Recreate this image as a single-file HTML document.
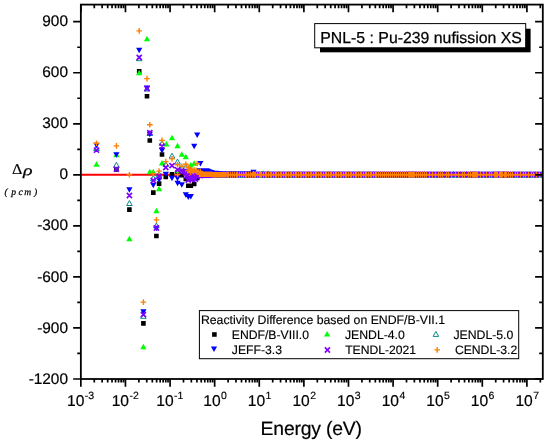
<!DOCTYPE html><html><head><meta charset="utf-8"><title>PNL-5 : Pu-239 nufission XS</title>
<style>html,body{margin:0;padding:0;background:#fff}svg{display:block}text{text-rendering:geometricPrecision;font-family:"Liberation Sans",Arial,sans-serif;fill:#000}.s{font-family:"Liberation Serif","Times New Roman",serif}</style></head><body>
<svg width="550" height="444" viewBox="0 0 550 444">
<rect width="550" height="444" fill="#fff"/>
<line x1="80.85" y1="174.83" x2="542.8" y2="174.83" stroke="#ff0000" stroke-width="2"/>
<g>
<path fill="#000000" d="M114.1 167.1h4.6v4.6h-4.6zM127.1 207.3h4.6v4.6h-4.6zM136.9 69.1h4.6v4.6h-4.6zM141.1 321.1h4.6v4.6h-4.6zM144.7 93.9h4.6v4.6h-4.6zM147.5 138.2h4.6v4.6h-4.6zM151 190.3h4.6v4.6h-4.6zM154.1 233.7h4.6v4.6h-4.6zM156.8 181.3h4.6v4.6h-4.6zM159.7 152.2h4.6v4.6h-4.6zM163.5 174.7h4.6v4.6h-4.6zM169.7 172.1h4.6v4.6h-4.6zM175.2 170.2h4.6v4.6h-4.6zM179.5 173h4.6v4.6h-4.6zM183.5 176.7h4.6v4.6h-4.6zM186 183.5h4.6v4.6h-4.6zM188.5 183.5h4.6v4.6h-4.6zM191.9 181.7h4.6v4.6h-4.6zM194.9 175.7h4.6v4.6h-4.6zM209.7 172.32h4.6v4.6h-4.6zM210.7 172.32h4.6v4.6h-4.6zM211.7 172.32h4.6v4.6h-4.6zM212.7 172.32h4.6v4.6h-4.6zM213.7 172.32h4.6v4.6h-4.6zM214.7 172.32h4.6v4.6h-4.6zM215.7 172.32h4.6v4.6h-4.6zM216.7 172.32h4.6v4.6h-4.6zM217.7 172.32h4.6v4.6h-4.6zM218.7 172.32h4.6v4.6h-4.6zM219.7 172.32h4.6v4.6h-4.6zM220.7 172.32h4.6v4.6h-4.6zM221.7 172.32h4.6v4.6h-4.6zM222.7 172.32h4.6v4.6h-4.6zM223.7 172.32h4.6v4.6h-4.6zM225.2 172.32h4.6v4.6h-4.6zM226.2 172.32h4.6v4.6h-4.6zM228.2 172.32h4.6v4.6h-4.6zM230.2 172.32h4.6v4.6h-4.6zM232.2 172.32h4.6v4.6h-4.6zM234.2 172.32h4.6v4.6h-4.6zM235.2 172.32h4.6v4.6h-4.6zM237.2 172.32h4.6v4.6h-4.6zM239.2 172.32h4.6v4.6h-4.6zM241.2 172.32h4.6v4.6h-4.6zM243.2 172.32h4.6v4.6h-4.6zM244.2 172.32h4.6v4.6h-4.6zM246.2 172.32h4.6v4.6h-4.6zM248.2 172.32h4.6v4.6h-4.6zM250.2 172.32h4.6v4.6h-4.6zM252.2 172.32h4.6v4.6h-4.6zM253.2 172.32h4.6v4.6h-4.6zM255.2 172.32h4.6v4.6h-4.6zM257.2 172.32h4.6v4.6h-4.6zM258.2 172.32h4.6v4.6h-4.6zM259.2 172.32h4.6v4.6h-4.6zM261.2 172.32h4.6v4.6h-4.6zM263.2 172.32h4.6v4.6h-4.6zM264.2 172.32h4.6v4.6h-4.6zM266.2 172.32h4.6v4.6h-4.6zM268.2 172.32h4.6v4.6h-4.6zM269.2 172.32h4.6v4.6h-4.6zM271.2 172.32h4.6v4.6h-4.6zM273.2 172.32h4.6v4.6h-4.6zM274.2 172.32h4.6v4.6h-4.6zM276.2 172.32h4.6v4.6h-4.6zM278.2 172.32h4.6v4.6h-4.6zM279.2 172.32h4.6v4.6h-4.6zM281.2 172.32h4.6v4.6h-4.6zM283.2 172.32h4.6v4.6h-4.6zM284.2 172.32h4.6v4.6h-4.6zM286.2 172.32h4.6v4.6h-4.6zM288.2 172.32h4.6v4.6h-4.6zM289.2 172.32h4.6v4.6h-4.6zM291.2 172.32h4.6v4.6h-4.6zM293.2 172.32h4.6v4.6h-4.6zM294.2 172.32h4.6v4.6h-4.6zM296.2 172.32h4.6v4.6h-4.6zM298.2 172.32h4.6v4.6h-4.6zM299.2 172.32h4.6v4.6h-4.6zM301.2 172.32h4.6v4.6h-4.6zM303.2 172.32h4.6v4.6h-4.6zM304.2 172.32h4.6v4.6h-4.6zM306.2 172.32h4.6v4.6h-4.6zM308.2 172.32h4.6v4.6h-4.6zM309.2 172.32h4.6v4.6h-4.6zM311.2 172.32h4.6v4.6h-4.6zM313.2 172.32h4.6v4.6h-4.6zM314.2 172.32h4.6v4.6h-4.6zM316.2 172.32h4.6v4.6h-4.6zM318.2 172.32h4.6v4.6h-4.6zM319.2 172.32h4.6v4.6h-4.6zM321.2 172.32h4.6v4.6h-4.6zM323.2 172.32h4.6v4.6h-4.6zM324.2 172.32h4.6v4.6h-4.6zM326.2 172.32h4.6v4.6h-4.6zM328.2 172.32h4.6v4.6h-4.6zM329.2 172.32h4.6v4.6h-4.6zM331.2 172.32h4.6v4.6h-4.6zM333.2 172.32h4.6v4.6h-4.6zM334.2 172.32h4.6v4.6h-4.6zM336.2 172.32h4.6v4.6h-4.6zM338.2 172.32h4.6v4.6h-4.6zM339.2 172.32h4.6v4.6h-4.6zM341.2 172.32h4.6v4.6h-4.6zM343.2 172.32h4.6v4.6h-4.6zM344.2 172.32h4.6v4.6h-4.6zM346.2 172.32h4.6v4.6h-4.6zM348.2 172.32h4.6v4.6h-4.6zM349.2 172.32h4.6v4.6h-4.6zM351.2 172.32h4.6v4.6h-4.6zM353.2 172.32h4.6v4.6h-4.6zM354.2 172.32h4.6v4.6h-4.6zM356.2 172.32h4.6v4.6h-4.6zM358.2 172.32h4.6v4.6h-4.6zM359.2 172.32h4.6v4.6h-4.6zM361.2 172.32h4.6v4.6h-4.6zM363.2 172.32h4.6v4.6h-4.6zM364.2 172.32h4.6v4.6h-4.6zM366.2 172.32h4.6v4.6h-4.6zM368.2 172.32h4.6v4.6h-4.6zM369.2 172.32h4.6v4.6h-4.6zM371.2 172.32h4.6v4.6h-4.6zM373.2 172.32h4.6v4.6h-4.6zM374.2 172.32h4.6v4.6h-4.6zM376.2 172.32h4.6v4.6h-4.6zM378.2 172.32h4.6v4.6h-4.6zM380.2 172.32h4.6v4.6h-4.6zM382.2 172.32h4.6v4.6h-4.6zM384.2 172.32h4.6v4.6h-4.6zM386.2 172.32h4.6v4.6h-4.6zM388.2 172.32h4.6v4.6h-4.6zM390.2 172.32h4.6v4.6h-4.6zM392.2 172.32h4.6v4.6h-4.6zM394.2 172.32h4.6v4.6h-4.6zM396.2 172.32h4.6v4.6h-4.6zM398.2 172.32h4.6v4.6h-4.6zM400.2 172.32h4.6v4.6h-4.6zM402.2 172.32h4.6v4.6h-4.6zM404.2 172.32h4.6v4.6h-4.6zM406.2 172.32h4.6v4.6h-4.6zM407.2 172.32h4.6v4.6h-4.6zM407.2 172.32h4.6v4.6h-4.6zM408.2 172.32h4.6v4.6h-4.6zM409.2 172.32h4.6v4.6h-4.6zM410.2 172.32h4.6v4.6h-4.6zM411.2 172.32h4.6v4.6h-4.6zM412.2 172.32h4.6v4.6h-4.6zM414.2 172.32h4.6v4.6h-4.6zM416.2 172.32h4.6v4.6h-4.6zM418.2 172.32h4.6v4.6h-4.6zM420.2 172.32h4.6v4.6h-4.6zM422.2 172.32h4.6v4.6h-4.6zM424.2 172.32h4.6v4.6h-4.6zM427.2 172.32h4.6v4.6h-4.6zM430.2 172.32h4.6v4.6h-4.6zM433.2 172.32h4.6v4.6h-4.6zM436.2 172.32h4.6v4.6h-4.6zM438.2 172.32h4.6v4.6h-4.6zM440.2 172.32h4.6v4.6h-4.6zM444.2 172.32h4.6v4.6h-4.6zM446.2 172.32h4.6v4.6h-4.6zM449.2 172.32h4.6v4.6h-4.6zM453.2 172.32h4.6v4.6h-4.6zM456.2 172.32h4.6v4.6h-4.6zM460.2 172.32h4.6v4.6h-4.6zM462.2 172.32h4.6v4.6h-4.6zM466.2 172.32h4.6v4.6h-4.6zM468.2 172.32h4.6v4.6h-4.6zM470.2 172.32h4.6v4.6h-4.6zM471.2 172.32h4.6v4.6h-4.6zM472.2 172.32h4.6v4.6h-4.6zM473.2 172.32h4.6v4.6h-4.6zM474.2 172.32h4.6v4.6h-4.6zM475.2 172.32h4.6v4.6h-4.6zM478.2 172.32h4.6v4.6h-4.6zM481.2 172.32h4.6v4.6h-4.6zM484.2 172.32h4.6v4.6h-4.6zM487.2 172.32h4.6v4.6h-4.6zM489.2 172.32h4.6v4.6h-4.6zM492.2 172.32h4.6v4.6h-4.6zM493.2 172.32h4.6v4.6h-4.6zM494.2 172.32h4.6v4.6h-4.6zM495.2 172.32h4.6v4.6h-4.6zM497.2 172.32h4.6v4.6h-4.6zM498.2 172.32h4.6v4.6h-4.6zM499.2 172.32h4.6v4.6h-4.6zM500.2 172.32h4.6v4.6h-4.6zM502.2 172.32h4.6v4.6h-4.6zM503.2 172.32h4.6v4.6h-4.6zM504.2 172.32h4.6v4.6h-4.6zM506.2 172.32h4.6v4.6h-4.6zM508.2 172.32h4.6v4.6h-4.6zM510.2 172.32h4.6v4.6h-4.6zM513.2 172.32h4.6v4.6h-4.6zM515.2 172.32h4.6v4.6h-4.6zM518.2 172.32h4.6v4.6h-4.6zM521.2 172.32h4.6v4.6h-4.6zM523.2 172.32h4.6v4.6h-4.6zM526.2 172.32h4.6v4.6h-4.6zM529.2 172.32h4.6v4.6h-4.6zM531.2 172.32h4.6v4.6h-4.6zM534.2 172.32h4.6v4.6h-4.6zM537.2 172.32h4.6v4.6h-4.6z"/>
<path fill="#00ff00" d="M93.4 166.85h6.2l-3.1 -5.5zM113.3 157.25h6.2l-3.1 -5.5zM126.3 241.25h6.2l-3.1 -5.5zM136.1 75.25h6.2l-3.1 -5.5zM140.3 349.25h6.2l-3.1 -5.5zM143.9 41.25h6.2l-3.1 -5.5zM146.7 174.25h6.2l-3.1 -5.5zM150.2 174.25h6.2l-3.1 -5.5zM153.3 213.15h6.2l-3.1 -5.5zM156 191.15h6.2l-3.1 -5.5zM158.9 165.45h6.2l-3.1 -5.5zM163.3 146.55h6.2l-3.1 -5.5zM168.9 140.15h6.2l-3.1 -5.5zM174.4 148.15h6.2l-3.1 -5.5zM174.5 173.05h6.2l-3.1 -5.5zM178.7 156.75h6.2l-3.1 -5.5zM182.7 159.25h6.2l-3.1 -5.5zM187.7 167.55h6.2l-3.1 -5.5zM191.1 165.75h6.2l-3.1 -5.5zM208.9 177.37h6.2l-3.1 -5.5zM209.9 177.37h6.2l-3.1 -5.5zM210.9 177.37h6.2l-3.1 -5.5zM211.9 177.37h6.2l-3.1 -5.5zM212.9 177.37h6.2l-3.1 -5.5zM213.9 177.37h6.2l-3.1 -5.5zM214.9 177.37h6.2l-3.1 -5.5zM215.9 177.37h6.2l-3.1 -5.5zM216.9 177.37h6.2l-3.1 -5.5zM217.9 177.37h6.2l-3.1 -5.5zM218.9 177.37h6.2l-3.1 -5.5zM219.9 177.37h6.2l-3.1 -5.5zM220.9 177.37h6.2l-3.1 -5.5zM221.9 177.37h6.2l-3.1 -5.5zM222.9 177.37h6.2l-3.1 -5.5zM224.4 177.37h6.2l-3.1 -5.5zM225.4 177.37h6.2l-3.1 -5.5zM227.4 177.37h6.2l-3.1 -5.5zM229.4 177.37h6.2l-3.1 -5.5zM231.4 177.37h6.2l-3.1 -5.5zM233.4 177.37h6.2l-3.1 -5.5zM234.4 177.37h6.2l-3.1 -5.5zM236.4 177.37h6.2l-3.1 -5.5zM238.4 177.37h6.2l-3.1 -5.5zM240.4 177.37h6.2l-3.1 -5.5zM242.4 177.37h6.2l-3.1 -5.5zM243.4 177.37h6.2l-3.1 -5.5zM245.4 177.37h6.2l-3.1 -5.5zM247.4 177.37h6.2l-3.1 -5.5zM249.4 177.37h6.2l-3.1 -5.5zM251.4 177.37h6.2l-3.1 -5.5zM252.4 177.37h6.2l-3.1 -5.5zM254.4 177.37h6.2l-3.1 -5.5zM256.4 177.37h6.2l-3.1 -5.5zM257.4 177.37h6.2l-3.1 -5.5zM258.4 177.37h6.2l-3.1 -5.5zM260.4 177.37h6.2l-3.1 -5.5zM262.4 177.37h6.2l-3.1 -5.5zM263.4 177.37h6.2l-3.1 -5.5zM265.4 177.37h6.2l-3.1 -5.5zM267.4 177.37h6.2l-3.1 -5.5zM268.4 177.37h6.2l-3.1 -5.5zM270.4 177.37h6.2l-3.1 -5.5zM272.4 177.37h6.2l-3.1 -5.5zM273.4 177.37h6.2l-3.1 -5.5zM275.4 177.37h6.2l-3.1 -5.5zM277.4 177.37h6.2l-3.1 -5.5zM278.4 177.37h6.2l-3.1 -5.5zM280.4 177.37h6.2l-3.1 -5.5zM282.4 177.37h6.2l-3.1 -5.5zM283.4 177.37h6.2l-3.1 -5.5zM285.4 177.37h6.2l-3.1 -5.5zM287.4 177.37h6.2l-3.1 -5.5zM288.4 177.37h6.2l-3.1 -5.5zM290.4 177.37h6.2l-3.1 -5.5zM292.4 177.37h6.2l-3.1 -5.5zM293.4 177.37h6.2l-3.1 -5.5zM295.4 177.37h6.2l-3.1 -5.5zM297.4 177.37h6.2l-3.1 -5.5zM298.4 177.37h6.2l-3.1 -5.5zM300.4 177.37h6.2l-3.1 -5.5zM302.4 177.37h6.2l-3.1 -5.5zM303.4 177.37h6.2l-3.1 -5.5zM305.4 177.37h6.2l-3.1 -5.5zM307.4 177.37h6.2l-3.1 -5.5zM308.4 177.37h6.2l-3.1 -5.5zM310.4 177.37h6.2l-3.1 -5.5zM312.4 177.37h6.2l-3.1 -5.5zM313.4 177.37h6.2l-3.1 -5.5zM315.4 177.37h6.2l-3.1 -5.5zM317.4 177.37h6.2l-3.1 -5.5zM318.4 177.37h6.2l-3.1 -5.5zM320.4 177.37h6.2l-3.1 -5.5zM322.4 177.37h6.2l-3.1 -5.5zM323.4 177.37h6.2l-3.1 -5.5zM325.4 177.37h6.2l-3.1 -5.5zM327.4 177.37h6.2l-3.1 -5.5zM328.4 177.37h6.2l-3.1 -5.5zM330.4 177.37h6.2l-3.1 -5.5zM332.4 177.37h6.2l-3.1 -5.5zM333.4 177.37h6.2l-3.1 -5.5zM335.4 177.37h6.2l-3.1 -5.5zM337.4 177.37h6.2l-3.1 -5.5zM338.4 177.37h6.2l-3.1 -5.5zM340.4 177.37h6.2l-3.1 -5.5zM342.4 177.37h6.2l-3.1 -5.5zM343.4 177.37h6.2l-3.1 -5.5zM345.4 177.37h6.2l-3.1 -5.5zM347.4 177.37h6.2l-3.1 -5.5zM348.4 177.37h6.2l-3.1 -5.5zM350.4 177.37h6.2l-3.1 -5.5zM352.4 177.37h6.2l-3.1 -5.5zM353.4 177.37h6.2l-3.1 -5.5zM355.4 177.37h6.2l-3.1 -5.5zM357.4 177.37h6.2l-3.1 -5.5zM358.4 177.37h6.2l-3.1 -5.5zM360.4 177.37h6.2l-3.1 -5.5zM362.4 177.37h6.2l-3.1 -5.5zM363.4 177.37h6.2l-3.1 -5.5zM365.4 177.37h6.2l-3.1 -5.5zM367.4 177.37h6.2l-3.1 -5.5zM368.4 177.37h6.2l-3.1 -5.5zM370.4 177.37h6.2l-3.1 -5.5zM372.4 177.37h6.2l-3.1 -5.5zM373.4 177.37h6.2l-3.1 -5.5zM375.4 177.37h6.2l-3.1 -5.5zM377.4 177.37h6.2l-3.1 -5.5zM379.4 177.37h6.2l-3.1 -5.5zM381.4 177.37h6.2l-3.1 -5.5zM383.4 177.37h6.2l-3.1 -5.5zM385.4 177.37h6.2l-3.1 -5.5zM387.4 177.37h6.2l-3.1 -5.5zM389.4 177.37h6.2l-3.1 -5.5zM391.4 177.37h6.2l-3.1 -5.5zM393.4 177.37h6.2l-3.1 -5.5zM395.4 177.37h6.2l-3.1 -5.5zM397.4 177.37h6.2l-3.1 -5.5zM399.4 177.37h6.2l-3.1 -5.5zM401.4 177.37h6.2l-3.1 -5.5zM403.4 177.37h6.2l-3.1 -5.5zM405.4 177.37h6.2l-3.1 -5.5zM406.4 177.37h6.2l-3.1 -5.5zM406.4 177.37h6.2l-3.1 -5.5zM407.4 177.37h6.2l-3.1 -5.5zM408.4 177.37h6.2l-3.1 -5.5zM409.4 177.37h6.2l-3.1 -5.5zM410.4 177.37h6.2l-3.1 -5.5zM411.4 177.37h6.2l-3.1 -5.5zM413.4 177.37h6.2l-3.1 -5.5zM415.4 177.37h6.2l-3.1 -5.5zM417.4 177.37h6.2l-3.1 -5.5zM419.4 177.37h6.2l-3.1 -5.5zM421.4 177.37h6.2l-3.1 -5.5zM423.4 177.37h6.2l-3.1 -5.5zM426.4 177.37h6.2l-3.1 -5.5zM429.4 177.37h6.2l-3.1 -5.5zM432.4 177.37h6.2l-3.1 -5.5zM435.4 177.37h6.2l-3.1 -5.5zM437.4 177.37h6.2l-3.1 -5.5zM439.4 177.37h6.2l-3.1 -5.5zM443.4 177.37h6.2l-3.1 -5.5zM445.4 177.37h6.2l-3.1 -5.5zM448.4 177.37h6.2l-3.1 -5.5zM452.4 177.37h6.2l-3.1 -5.5zM455.4 177.37h6.2l-3.1 -5.5zM459.4 177.37h6.2l-3.1 -5.5zM461.4 177.37h6.2l-3.1 -5.5zM465.4 177.37h6.2l-3.1 -5.5zM467.4 177.37h6.2l-3.1 -5.5zM469.4 177.37h6.2l-3.1 -5.5zM470.4 177.37h6.2l-3.1 -5.5zM471.4 177.37h6.2l-3.1 -5.5zM472.4 177.37h6.2l-3.1 -5.5zM473.4 177.37h6.2l-3.1 -5.5zM474.4 177.37h6.2l-3.1 -5.5zM477.4 177.37h6.2l-3.1 -5.5zM480.4 177.37h6.2l-3.1 -5.5zM483.4 177.37h6.2l-3.1 -5.5zM486.4 177.37h6.2l-3.1 -5.5zM488.4 177.37h6.2l-3.1 -5.5zM491.4 177.37h6.2l-3.1 -5.5zM492.4 177.37h6.2l-3.1 -5.5zM493.4 177.37h6.2l-3.1 -5.5zM494.4 177.37h6.2l-3.1 -5.5zM496.4 177.37h6.2l-3.1 -5.5zM497.4 177.37h6.2l-3.1 -5.5zM498.4 177.37h6.2l-3.1 -5.5zM499.4 177.37h6.2l-3.1 -5.5zM501.4 177.37h6.2l-3.1 -5.5zM502.4 177.37h6.2l-3.1 -5.5zM503.4 177.37h6.2l-3.1 -5.5zM505.4 177.37h6.2l-3.1 -5.5zM507.4 177.37h6.2l-3.1 -5.5zM509.4 177.37h6.2l-3.1 -5.5zM512.4 177.37h6.2l-3.1 -5.5zM514.4 177.37h6.2l-3.1 -5.5zM517.4 177.37h6.2l-3.1 -5.5zM520.4 177.37h6.2l-3.1 -5.5zM522.4 177.37h6.2l-3.1 -5.5zM525.4 177.37h6.2l-3.1 -5.5zM528.4 177.37h6.2l-3.1 -5.5zM530.4 177.37h6.2l-3.1 -5.5zM533.4 177.37h6.2l-3.1 -5.5zM536.4 177.37h6.2l-3.1 -5.5zM259.9 175.75h6.2l-3.1 -5.5zM264.9 175.75h6.2l-3.1 -5.5z"/>
<path fill="none" stroke="#0a8a8a" stroke-width="1" d="M93.7 150.5h5.6l-2.8 -5zM113.6 167.3h5.6l-2.8 -5zM126.6 205.5h5.6l-2.8 -5zM136.4 60.7h5.6l-2.8 -5zM140.6 318.3h5.6l-2.8 -5zM144.2 91h5.6l-2.8 -5zM147 135.5h5.6l-2.8 -5zM150.5 180.5h5.6l-2.8 -5zM153.6 228h5.6l-2.8 -5zM156.3 176.5h5.6l-2.8 -5zM159.2 145.5h5.6l-2.8 -5zM163 166.5h5.6l-2.8 -5zM169.2 158.2h5.6l-2.8 -5zM174.7 164.1h5.6l-2.8 -5zM179 170.5h5.6l-2.8 -5zM183 169.5h5.6l-2.8 -5zM209.2 177.12h5.6l-2.8 -5zM210.2 177.12h5.6l-2.8 -5zM211.2 177.12h5.6l-2.8 -5zM212.2 177.12h5.6l-2.8 -5zM213.2 177.12h5.6l-2.8 -5zM214.2 177.12h5.6l-2.8 -5zM215.2 177.12h5.6l-2.8 -5zM216.2 177.12h5.6l-2.8 -5zM217.2 177.12h5.6l-2.8 -5zM218.2 177.12h5.6l-2.8 -5zM219.2 177.12h5.6l-2.8 -5zM220.2 177.12h5.6l-2.8 -5zM221.2 177.12h5.6l-2.8 -5zM222.2 177.12h5.6l-2.8 -5zM223.2 177.12h5.6l-2.8 -5zM224.7 177.12h5.6l-2.8 -5zM225.7 177.12h5.6l-2.8 -5zM227.7 177.12h5.6l-2.8 -5zM229.7 177.12h5.6l-2.8 -5zM231.7 177.12h5.6l-2.8 -5zM233.7 177.12h5.6l-2.8 -5zM234.7 177.12h5.6l-2.8 -5zM236.7 177.12h5.6l-2.8 -5zM238.7 177.12h5.6l-2.8 -5zM240.7 177.12h5.6l-2.8 -5zM242.7 177.12h5.6l-2.8 -5zM243.7 177.12h5.6l-2.8 -5zM245.7 177.12h5.6l-2.8 -5zM247.7 177.12h5.6l-2.8 -5zM249.7 177.12h5.6l-2.8 -5zM251.7 177.12h5.6l-2.8 -5zM252.7 177.12h5.6l-2.8 -5zM254.7 177.12h5.6l-2.8 -5zM256.7 177.12h5.6l-2.8 -5zM257.7 177.12h5.6l-2.8 -5zM258.7 177.12h5.6l-2.8 -5zM260.7 177.12h5.6l-2.8 -5zM262.7 177.12h5.6l-2.8 -5zM263.7 177.12h5.6l-2.8 -5zM265.7 177.12h5.6l-2.8 -5zM267.7 177.12h5.6l-2.8 -5zM268.7 177.12h5.6l-2.8 -5zM270.7 177.12h5.6l-2.8 -5zM272.7 177.12h5.6l-2.8 -5zM273.7 177.12h5.6l-2.8 -5zM275.7 177.12h5.6l-2.8 -5zM277.7 177.12h5.6l-2.8 -5zM278.7 177.12h5.6l-2.8 -5zM280.7 177.12h5.6l-2.8 -5zM282.7 177.12h5.6l-2.8 -5zM283.7 177.12h5.6l-2.8 -5zM285.7 177.12h5.6l-2.8 -5zM287.7 177.12h5.6l-2.8 -5zM288.7 177.12h5.6l-2.8 -5zM290.7 177.12h5.6l-2.8 -5zM292.7 177.12h5.6l-2.8 -5zM293.7 177.12h5.6l-2.8 -5zM295.7 177.12h5.6l-2.8 -5zM297.7 177.12h5.6l-2.8 -5zM298.7 177.12h5.6l-2.8 -5zM300.7 177.12h5.6l-2.8 -5zM302.7 177.12h5.6l-2.8 -5zM303.7 177.12h5.6l-2.8 -5zM305.7 177.12h5.6l-2.8 -5zM307.7 177.12h5.6l-2.8 -5zM308.7 177.12h5.6l-2.8 -5zM310.7 177.12h5.6l-2.8 -5zM312.7 177.12h5.6l-2.8 -5zM313.7 177.12h5.6l-2.8 -5zM315.7 177.12h5.6l-2.8 -5zM317.7 177.12h5.6l-2.8 -5zM318.7 177.12h5.6l-2.8 -5zM320.7 177.12h5.6l-2.8 -5zM322.7 177.12h5.6l-2.8 -5zM323.7 177.12h5.6l-2.8 -5zM325.7 177.12h5.6l-2.8 -5zM327.7 177.12h5.6l-2.8 -5zM328.7 177.12h5.6l-2.8 -5zM330.7 177.12h5.6l-2.8 -5zM332.7 177.12h5.6l-2.8 -5zM333.7 177.12h5.6l-2.8 -5zM335.7 177.12h5.6l-2.8 -5zM337.7 177.12h5.6l-2.8 -5zM338.7 177.12h5.6l-2.8 -5zM340.7 177.12h5.6l-2.8 -5zM342.7 177.12h5.6l-2.8 -5zM343.7 177.12h5.6l-2.8 -5zM345.7 177.12h5.6l-2.8 -5zM347.7 177.12h5.6l-2.8 -5zM348.7 177.12h5.6l-2.8 -5zM350.7 177.12h5.6l-2.8 -5zM352.7 177.12h5.6l-2.8 -5zM353.7 177.12h5.6l-2.8 -5zM355.7 177.12h5.6l-2.8 -5zM357.7 177.12h5.6l-2.8 -5zM358.7 177.12h5.6l-2.8 -5zM360.7 177.12h5.6l-2.8 -5zM362.7 177.12h5.6l-2.8 -5zM363.7 177.12h5.6l-2.8 -5zM365.7 177.12h5.6l-2.8 -5zM367.7 177.12h5.6l-2.8 -5zM368.7 177.12h5.6l-2.8 -5zM370.7 177.12h5.6l-2.8 -5zM372.7 177.12h5.6l-2.8 -5zM373.7 177.12h5.6l-2.8 -5zM375.7 177.12h5.6l-2.8 -5zM377.7 177.12h5.6l-2.8 -5zM379.7 177.12h5.6l-2.8 -5zM381.7 177.12h5.6l-2.8 -5zM383.7 177.12h5.6l-2.8 -5zM385.7 177.12h5.6l-2.8 -5zM387.7 177.12h5.6l-2.8 -5zM389.7 177.12h5.6l-2.8 -5zM391.7 177.12h5.6l-2.8 -5zM393.7 177.12h5.6l-2.8 -5zM395.7 177.12h5.6l-2.8 -5zM397.7 177.12h5.6l-2.8 -5zM399.7 177.12h5.6l-2.8 -5zM401.7 177.12h5.6l-2.8 -5zM403.7 177.12h5.6l-2.8 -5zM405.7 177.12h5.6l-2.8 -5zM406.7 177.12h5.6l-2.8 -5zM406.7 177.12h5.6l-2.8 -5zM407.7 177.12h5.6l-2.8 -5zM408.7 177.12h5.6l-2.8 -5zM409.7 177.12h5.6l-2.8 -5zM410.7 177.12h5.6l-2.8 -5zM411.7 177.12h5.6l-2.8 -5zM413.7 177.12h5.6l-2.8 -5zM415.7 177.12h5.6l-2.8 -5zM417.7 177.12h5.6l-2.8 -5zM419.7 177.12h5.6l-2.8 -5zM421.7 177.12h5.6l-2.8 -5zM423.7 177.12h5.6l-2.8 -5zM426.7 177.12h5.6l-2.8 -5zM429.7 177.12h5.6l-2.8 -5zM432.7 177.12h5.6l-2.8 -5zM435.7 177.12h5.6l-2.8 -5zM437.7 177.12h5.6l-2.8 -5zM439.7 177.12h5.6l-2.8 -5zM443.7 177.12h5.6l-2.8 -5zM445.7 177.12h5.6l-2.8 -5zM448.7 177.12h5.6l-2.8 -5zM452.7 177.12h5.6l-2.8 -5zM455.7 177.12h5.6l-2.8 -5zM459.7 177.12h5.6l-2.8 -5zM461.7 177.12h5.6l-2.8 -5zM465.7 177.12h5.6l-2.8 -5zM467.7 177.12h5.6l-2.8 -5zM469.7 177.12h5.6l-2.8 -5zM470.7 177.12h5.6l-2.8 -5zM471.7 177.12h5.6l-2.8 -5zM472.7 177.12h5.6l-2.8 -5zM473.7 177.12h5.6l-2.8 -5zM474.7 177.12h5.6l-2.8 -5zM477.7 177.12h5.6l-2.8 -5zM480.7 177.12h5.6l-2.8 -5zM483.7 177.12h5.6l-2.8 -5zM486.7 177.12h5.6l-2.8 -5zM488.7 177.12h5.6l-2.8 -5zM491.7 177.12h5.6l-2.8 -5zM492.7 177.12h5.6l-2.8 -5zM493.7 177.12h5.6l-2.8 -5zM494.7 177.12h5.6l-2.8 -5zM496.7 177.12h5.6l-2.8 -5zM497.7 177.12h5.6l-2.8 -5zM498.7 177.12h5.6l-2.8 -5zM499.7 177.12h5.6l-2.8 -5zM501.7 177.12h5.6l-2.8 -5zM502.7 177.12h5.6l-2.8 -5zM503.7 177.12h5.6l-2.8 -5zM505.7 177.12h5.6l-2.8 -5zM507.7 177.12h5.6l-2.8 -5zM509.7 177.12h5.6l-2.8 -5zM512.7 177.12h5.6l-2.8 -5zM514.7 177.12h5.6l-2.8 -5zM517.7 177.12h5.6l-2.8 -5zM520.7 177.12h5.6l-2.8 -5zM522.7 177.12h5.6l-2.8 -5zM525.7 177.12h5.6l-2.8 -5zM528.7 177.12h5.6l-2.8 -5zM530.7 177.12h5.6l-2.8 -5zM533.7 177.12h5.6l-2.8 -5zM536.7 177.12h5.6l-2.8 -5z"/>
<path fill="#0000ff" d="M93.4 142.75h6.2l-3.1 5.5zM113.3 152.25h6.2l-3.1 5.5zM126.3 187.25h6.2l-3.1 5.5zM136.1 47.75h6.2l-3.1 5.5zM140.3 309.25h6.2l-3.1 5.5zM143.9 85.55h6.2l-3.1 5.5zM146.7 131.75h6.2l-3.1 5.5zM150.2 182.75h6.2l-3.1 5.5zM153.3 225.85h6.2l-3.1 5.5zM156 177.25h6.2l-3.1 5.5zM158.9 148.05h6.2l-3.1 5.5zM162.7 171.85h6.2l-3.1 5.5zM168.9 175.65h6.2l-3.1 5.5zM174.4 175.65h6.2l-3.1 5.5zM174.5 180.85h6.2l-3.1 5.5zM178.7 182.35h6.2l-3.1 5.5zM182.7 192.25h6.2l-3.1 5.5zM185.2 194.55h6.2l-3.1 5.5zM187.7 193.95h6.2l-3.1 5.5zM191.1 143.75h6.2l-3.1 5.5zM194.1 132.45h6.2l-3.1 5.5zM197.3 161.05h6.2l-3.1 5.5zM196.4 168.15h6.2l-3.1 5.5zM197.4 168.15h6.2l-3.1 5.5zM198.4 168.15h6.2l-3.1 5.5zM199.4 168.15h6.2l-3.1 5.5zM200.4 168.15h6.2l-3.1 5.5zM201.4 168.15h6.2l-3.1 5.5zM202.4 168.15h6.2l-3.1 5.5zM203.4 168.35h6.2l-3.1 5.5zM204.4 168.75h6.2l-3.1 5.5zM205.4 169.15h6.2l-3.1 5.5zM206.4 169.55h6.2l-3.1 5.5zM207.4 169.95h6.2l-3.1 5.5zM208.4 170.35h6.2l-3.1 5.5zM208.9 170.55h6.2l-3.1 5.5zM209.9 170.63h6.2l-3.1 5.5zM210.9 170.71h6.2l-3.1 5.5zM211.9 170.79h6.2l-3.1 5.5zM212.9 170.87h6.2l-3.1 5.5zM213.9 170.95h6.2l-3.1 5.5zM214.9 171.03h6.2l-3.1 5.5zM215.9 171.11h6.2l-3.1 5.5zM216.9 171.19h6.2l-3.1 5.5zM217.9 171.27h6.2l-3.1 5.5zM218.9 171.35h6.2l-3.1 5.5zM219.9 171.35h6.2l-3.1 5.5zM220.9 171.35h6.2l-3.1 5.5zM221.9 171.35h6.2l-3.1 5.5zM222.9 171.35h6.2l-3.1 5.5zM224.4 171.35h6.2l-3.1 5.5zM225.4 171.35h6.2l-3.1 5.5zM227.4 171.35h6.2l-3.1 5.5zM229.4 171.35h6.2l-3.1 5.5zM231.4 171.35h6.2l-3.1 5.5zM233.4 171.35h6.2l-3.1 5.5zM234.4 171.35h6.2l-3.1 5.5zM236.4 171.35h6.2l-3.1 5.5zM238.4 171.35h6.2l-3.1 5.5zM240.4 171.35h6.2l-3.1 5.5zM242.4 171.35h6.2l-3.1 5.5zM243.4 171.35h6.2l-3.1 5.5zM245.4 171.35h6.2l-3.1 5.5zM247.4 171.39h6.2l-3.1 5.5zM249.4 171.56h6.2l-3.1 5.5zM251.4 171.72h6.2l-3.1 5.5zM252.4 171.81h6.2l-3.1 5.5zM254.4 171.87h6.2l-3.1 5.5zM256.4 171.87h6.2l-3.1 5.5zM257.4 171.87h6.2l-3.1 5.5zM258.4 171.87h6.2l-3.1 5.5zM260.4 171.87h6.2l-3.1 5.5zM262.4 171.87h6.2l-3.1 5.5zM263.4 171.87h6.2l-3.1 5.5zM265.4 171.87h6.2l-3.1 5.5zM267.4 171.87h6.2l-3.1 5.5zM268.4 171.87h6.2l-3.1 5.5zM270.4 171.87h6.2l-3.1 5.5zM272.4 171.87h6.2l-3.1 5.5zM273.4 171.87h6.2l-3.1 5.5zM275.4 171.87h6.2l-3.1 5.5zM277.4 171.87h6.2l-3.1 5.5zM278.4 171.87h6.2l-3.1 5.5zM280.4 171.87h6.2l-3.1 5.5zM282.4 171.87h6.2l-3.1 5.5zM283.4 171.87h6.2l-3.1 5.5zM285.4 171.87h6.2l-3.1 5.5zM287.4 171.87h6.2l-3.1 5.5zM288.4 171.87h6.2l-3.1 5.5zM290.4 171.87h6.2l-3.1 5.5zM292.4 171.87h6.2l-3.1 5.5zM293.4 171.87h6.2l-3.1 5.5zM295.4 171.87h6.2l-3.1 5.5zM297.4 171.87h6.2l-3.1 5.5zM298.4 171.87h6.2l-3.1 5.5zM300.4 171.87h6.2l-3.1 5.5zM302.4 171.87h6.2l-3.1 5.5zM303.4 171.87h6.2l-3.1 5.5zM305.4 171.87h6.2l-3.1 5.5zM307.4 171.87h6.2l-3.1 5.5zM308.4 171.87h6.2l-3.1 5.5zM310.4 171.87h6.2l-3.1 5.5zM312.4 171.87h6.2l-3.1 5.5zM313.4 171.87h6.2l-3.1 5.5zM315.4 171.87h6.2l-3.1 5.5zM317.4 171.87h6.2l-3.1 5.5zM318.4 171.87h6.2l-3.1 5.5zM320.4 171.87h6.2l-3.1 5.5zM322.4 171.87h6.2l-3.1 5.5zM323.4 171.87h6.2l-3.1 5.5zM325.4 171.87h6.2l-3.1 5.5zM327.4 171.87h6.2l-3.1 5.5zM328.4 171.87h6.2l-3.1 5.5zM330.4 171.87h6.2l-3.1 5.5zM332.4 171.87h6.2l-3.1 5.5zM333.4 171.87h6.2l-3.1 5.5zM335.4 171.87h6.2l-3.1 5.5zM337.4 171.87h6.2l-3.1 5.5zM338.4 171.87h6.2l-3.1 5.5zM340.4 171.87h6.2l-3.1 5.5zM342.4 171.87h6.2l-3.1 5.5zM343.4 171.87h6.2l-3.1 5.5zM345.4 171.87h6.2l-3.1 5.5zM347.4 171.87h6.2l-3.1 5.5zM348.4 171.87h6.2l-3.1 5.5zM350.4 171.87h6.2l-3.1 5.5zM352.4 171.87h6.2l-3.1 5.5zM353.4 171.87h6.2l-3.1 5.5zM355.4 171.87h6.2l-3.1 5.5zM357.4 171.87h6.2l-3.1 5.5zM358.4 171.87h6.2l-3.1 5.5zM360.4 171.87h6.2l-3.1 5.5zM362.4 171.87h6.2l-3.1 5.5zM363.4 171.87h6.2l-3.1 5.5zM365.4 171.87h6.2l-3.1 5.5zM367.4 171.87h6.2l-3.1 5.5zM368.4 171.87h6.2l-3.1 5.5zM370.4 171.87h6.2l-3.1 5.5zM372.4 171.87h6.2l-3.1 5.5zM373.4 171.87h6.2l-3.1 5.5zM375.4 171.87h6.2l-3.1 5.5zM377.4 171.87h6.2l-3.1 5.5zM379.4 171.87h6.2l-3.1 5.5zM381.4 171.87h6.2l-3.1 5.5zM383.4 171.87h6.2l-3.1 5.5zM385.4 171.87h6.2l-3.1 5.5zM387.4 171.87h6.2l-3.1 5.5zM389.4 171.87h6.2l-3.1 5.5zM391.4 171.87h6.2l-3.1 5.5zM393.4 171.87h6.2l-3.1 5.5zM395.4 171.87h6.2l-3.1 5.5zM397.4 171.87h6.2l-3.1 5.5zM399.4 171.87h6.2l-3.1 5.5zM401.4 171.87h6.2l-3.1 5.5zM403.4 171.87h6.2l-3.1 5.5zM405.4 171.87h6.2l-3.1 5.5zM406.4 171.87h6.2l-3.1 5.5zM406.4 171.87h6.2l-3.1 5.5zM407.4 171.87h6.2l-3.1 5.5zM408.4 171.87h6.2l-3.1 5.5zM409.4 171.87h6.2l-3.1 5.5zM410.4 171.87h6.2l-3.1 5.5zM411.4 171.87h6.2l-3.1 5.5zM413.4 171.87h6.2l-3.1 5.5zM415.4 171.87h6.2l-3.1 5.5zM417.4 171.87h6.2l-3.1 5.5zM419.4 171.87h6.2l-3.1 5.5zM421.4 171.87h6.2l-3.1 5.5zM423.4 171.87h6.2l-3.1 5.5zM426.4 171.87h6.2l-3.1 5.5zM429.4 171.87h6.2l-3.1 5.5zM432.4 171.87h6.2l-3.1 5.5zM435.4 171.87h6.2l-3.1 5.5zM437.4 171.87h6.2l-3.1 5.5zM439.4 171.87h6.2l-3.1 5.5zM443.4 171.87h6.2l-3.1 5.5zM445.4 171.87h6.2l-3.1 5.5zM448.4 171.87h6.2l-3.1 5.5zM452.4 171.87h6.2l-3.1 5.5zM455.4 171.87h6.2l-3.1 5.5zM459.4 171.87h6.2l-3.1 5.5zM461.4 171.87h6.2l-3.1 5.5zM465.4 171.87h6.2l-3.1 5.5zM467.4 171.87h6.2l-3.1 5.5zM469.4 171.87h6.2l-3.1 5.5zM470.4 171.87h6.2l-3.1 5.5zM471.4 171.87h6.2l-3.1 5.5zM472.4 171.87h6.2l-3.1 5.5zM473.4 171.87h6.2l-3.1 5.5zM474.4 171.87h6.2l-3.1 5.5zM477.4 171.87h6.2l-3.1 5.5zM480.4 171.87h6.2l-3.1 5.5zM483.4 171.87h6.2l-3.1 5.5zM486.4 171.87h6.2l-3.1 5.5zM488.4 171.87h6.2l-3.1 5.5zM491.4 171.87h6.2l-3.1 5.5zM492.4 171.87h6.2l-3.1 5.5zM493.4 171.87h6.2l-3.1 5.5zM494.4 171.87h6.2l-3.1 5.5zM496.4 171.87h6.2l-3.1 5.5zM497.4 171.87h6.2l-3.1 5.5zM498.4 171.87h6.2l-3.1 5.5zM499.4 171.87h6.2l-3.1 5.5zM501.4 171.87h6.2l-3.1 5.5zM502.4 171.87h6.2l-3.1 5.5zM503.4 171.87h6.2l-3.1 5.5zM505.4 171.87h6.2l-3.1 5.5zM507.4 171.87h6.2l-3.1 5.5zM509.4 171.87h6.2l-3.1 5.5zM512.4 171.87h6.2l-3.1 5.5zM514.4 171.87h6.2l-3.1 5.5zM517.4 171.87h6.2l-3.1 5.5zM520.4 171.87h6.2l-3.1 5.5zM522.4 171.87h6.2l-3.1 5.5zM525.4 171.87h6.2l-3.1 5.5zM528.4 171.87h6.2l-3.1 5.5zM530.4 171.87h6.2l-3.1 5.5zM533.4 171.87h6.2l-3.1 5.5zM536.4 171.87h6.2l-3.1 5.5zM250.4 169.75h6.2l-3.1 5.5z"/>
<path fill="none" stroke="#8000ff" stroke-width="1.65" d="M93.95 147.65l5.1 5.1M93.95 152.75l5.1 -5.1M113.85 166.55l5.1 5.1M113.85 171.65l5.1 -5.1M126.85 192.95l5.1 5.1M126.85 198.05l5.1 -5.1M136.65 54.95l5.1 5.1M136.65 60.05l5.1 -5.1M140.85 312.05l5.1 5.1M140.85 317.15l5.1 -5.1M144.45 86.05l5.1 5.1M144.45 91.15l5.1 -5.1M147.25 130.15l5.1 5.1M147.25 135.25l5.1 -5.1M150.75 177.95l5.1 5.1M150.75 183.05l5.1 -5.1M153.85 225.45l5.1 5.1M153.85 230.55l5.1 -5.1M156.55 173.95l5.1 5.1M156.55 179.05l5.1 -5.1M159.45 143.55l5.1 5.1M159.45 148.65l5.1 -5.1M163.25 164.95l5.1 5.1M163.25 170.05l5.1 -5.1M169.45 163.05l5.1 5.1M169.45 168.15l5.1 -5.1M174.95 167.25l5.1 5.1M174.95 172.35l5.1 -5.1M179.25 168.45l5.1 5.1M179.25 173.55l5.1 -5.1M183.25 170.45l5.1 5.1M183.25 175.55l5.1 -5.1M185.75 177.45l5.1 5.1M185.75 182.55l5.1 -5.1M188.25 176.45l5.1 5.1M188.25 181.55l5.1 -5.1M191.65 175.45l5.1 5.1M191.65 180.55l5.1 -5.1M194.65 173.95l5.1 5.1M194.65 179.05l5.1 -5.1M197.85 172.95l5.1 5.1M197.85 178.05l5.1 -5.1M196.95 172.65l5.1 5.1M196.95 177.75l5.1 -5.1M197.95 172.65l5.1 5.1M197.95 177.75l5.1 -5.1M198.95 172.65l5.1 5.1M198.95 177.75l5.1 -5.1M199.95 172.65l5.1 5.1M199.95 177.75l5.1 -5.1M200.95 172.65l5.1 5.1M200.95 177.75l5.1 -5.1M201.95 172.65l5.1 5.1M201.95 177.75l5.1 -5.1M202.95 172.65l5.1 5.1M202.95 177.75l5.1 -5.1M203.95 172.65l5.1 5.1M203.95 177.75l5.1 -5.1M204.95 172.65l5.1 5.1M204.95 177.75l5.1 -5.1M205.95 172.65l5.1 5.1M205.95 177.75l5.1 -5.1M206.95 172.65l5.1 5.1M206.95 177.75l5.1 -5.1M207.95 172.65l5.1 5.1M207.95 177.75l5.1 -5.1M208.95 172.65l5.1 5.1M208.95 177.75l5.1 -5.1M184.25 172.95l5.1 5.1M184.25 178.05l5.1 -5.1M186.95 174.95l5.1 5.1M186.95 180.05l5.1 -5.1M189.75 176.95l5.1 5.1M189.75 182.05l5.1 -5.1M192.95 176.45l5.1 5.1M192.95 181.55l5.1 -5.1M190.25 172.45l5.1 5.1M190.25 177.55l5.1 -5.1M181.45 168.95l5.1 5.1M181.45 174.05l5.1 -5.1M209.45 172.07l5.1 5.1M209.45 177.17l5.1 -5.1M210.45 172.07l5.1 5.1M210.45 177.17l5.1 -5.1M211.45 172.07l5.1 5.1M211.45 177.17l5.1 -5.1M212.45 172.07l5.1 5.1M212.45 177.17l5.1 -5.1M213.45 172.07l5.1 5.1M213.45 177.17l5.1 -5.1M214.45 172.07l5.1 5.1M214.45 177.17l5.1 -5.1M215.45 172.07l5.1 5.1M215.45 177.17l5.1 -5.1M216.45 172.07l5.1 5.1M216.45 177.17l5.1 -5.1M217.45 172.07l5.1 5.1M217.45 177.17l5.1 -5.1M218.45 172.07l5.1 5.1M218.45 177.17l5.1 -5.1M219.45 172.07l5.1 5.1M219.45 177.17l5.1 -5.1M220.45 172.07l5.1 5.1M220.45 177.17l5.1 -5.1M221.45 172.07l5.1 5.1M221.45 177.17l5.1 -5.1M222.45 172.07l5.1 5.1M222.45 177.17l5.1 -5.1M223.45 172.07l5.1 5.1M223.45 177.17l5.1 -5.1M224.95 172.07l5.1 5.1M224.95 177.17l5.1 -5.1M225.95 172.07l5.1 5.1M225.95 177.17l5.1 -5.1M227.95 172.07l5.1 5.1M227.95 177.17l5.1 -5.1M229.95 172.07l5.1 5.1M229.95 177.17l5.1 -5.1M231.95 172.07l5.1 5.1M231.95 177.17l5.1 -5.1M233.95 172.07l5.1 5.1M233.95 177.17l5.1 -5.1M234.95 172.07l5.1 5.1M234.95 177.17l5.1 -5.1M236.95 172.07l5.1 5.1M236.95 177.17l5.1 -5.1M238.95 172.07l5.1 5.1M238.95 177.17l5.1 -5.1M240.95 172.07l5.1 5.1M240.95 177.17l5.1 -5.1M242.95 172.07l5.1 5.1M242.95 177.17l5.1 -5.1M243.95 172.07l5.1 5.1M243.95 177.17l5.1 -5.1M245.95 172.07l5.1 5.1M245.95 177.17l5.1 -5.1M247.95 172.07l5.1 5.1M247.95 177.17l5.1 -5.1M249.95 172.07l5.1 5.1M249.95 177.17l5.1 -5.1M251.95 172.07l5.1 5.1M251.95 177.17l5.1 -5.1M252.95 172.07l5.1 5.1M252.95 177.17l5.1 -5.1M254.95 172.07l5.1 5.1M254.95 177.17l5.1 -5.1M256.95 172.07l5.1 5.1M256.95 177.17l5.1 -5.1M257.95 172.07l5.1 5.1M257.95 177.17l5.1 -5.1M258.95 172.07l5.1 5.1M258.95 177.17l5.1 -5.1M260.95 172.07l5.1 5.1M260.95 177.17l5.1 -5.1M262.95 172.07l5.1 5.1M262.95 177.17l5.1 -5.1M263.95 172.07l5.1 5.1M263.95 177.17l5.1 -5.1M265.95 172.07l5.1 5.1M265.95 177.17l5.1 -5.1M267.95 172.07l5.1 5.1M267.95 177.17l5.1 -5.1M268.95 172.07l5.1 5.1M268.95 177.17l5.1 -5.1M270.95 172.07l5.1 5.1M270.95 177.17l5.1 -5.1M272.95 172.07l5.1 5.1M272.95 177.17l5.1 -5.1M273.95 172.07l5.1 5.1M273.95 177.17l5.1 -5.1M275.95 172.07l5.1 5.1M275.95 177.17l5.1 -5.1M277.95 172.07l5.1 5.1M277.95 177.17l5.1 -5.1M278.95 172.07l5.1 5.1M278.95 177.17l5.1 -5.1M280.95 172.07l5.1 5.1M280.95 177.17l5.1 -5.1M282.95 172.07l5.1 5.1M282.95 177.17l5.1 -5.1M283.95 172.07l5.1 5.1M283.95 177.17l5.1 -5.1M285.95 172.07l5.1 5.1M285.95 177.17l5.1 -5.1M287.95 172.07l5.1 5.1M287.95 177.17l5.1 -5.1M288.95 172.07l5.1 5.1M288.95 177.17l5.1 -5.1M290.95 172.07l5.1 5.1M290.95 177.17l5.1 -5.1M292.95 172.07l5.1 5.1M292.95 177.17l5.1 -5.1M293.95 172.07l5.1 5.1M293.95 177.17l5.1 -5.1M295.95 172.07l5.1 5.1M295.95 177.17l5.1 -5.1M297.95 172.07l5.1 5.1M297.95 177.17l5.1 -5.1M298.95 172.07l5.1 5.1M298.95 177.17l5.1 -5.1M300.95 172.07l5.1 5.1M300.95 177.17l5.1 -5.1M302.95 172.07l5.1 5.1M302.95 177.17l5.1 -5.1M303.95 172.07l5.1 5.1M303.95 177.17l5.1 -5.1M305.95 172.07l5.1 5.1M305.95 177.17l5.1 -5.1M307.95 172.07l5.1 5.1M307.95 177.17l5.1 -5.1M308.95 172.07l5.1 5.1M308.95 177.17l5.1 -5.1M310.95 172.07l5.1 5.1M310.95 177.17l5.1 -5.1M312.95 172.07l5.1 5.1M312.95 177.17l5.1 -5.1M313.95 172.07l5.1 5.1M313.95 177.17l5.1 -5.1M315.95 172.07l5.1 5.1M315.95 177.17l5.1 -5.1M317.95 172.07l5.1 5.1M317.95 177.17l5.1 -5.1M318.95 172.07l5.1 5.1M318.95 177.17l5.1 -5.1M320.95 172.07l5.1 5.1M320.95 177.17l5.1 -5.1M322.95 172.07l5.1 5.1M322.95 177.17l5.1 -5.1M323.95 172.07l5.1 5.1M323.95 177.17l5.1 -5.1M325.95 172.07l5.1 5.1M325.95 177.17l5.1 -5.1M327.95 172.07l5.1 5.1M327.95 177.17l5.1 -5.1M328.95 172.07l5.1 5.1M328.95 177.17l5.1 -5.1M330.95 172.07l5.1 5.1M330.95 177.17l5.1 -5.1M332.95 172.07l5.1 5.1M332.95 177.17l5.1 -5.1M333.95 172.07l5.1 5.1M333.95 177.17l5.1 -5.1M335.95 172.07l5.1 5.1M335.95 177.17l5.1 -5.1M337.95 172.07l5.1 5.1M337.95 177.17l5.1 -5.1M338.95 172.07l5.1 5.1M338.95 177.17l5.1 -5.1M340.95 172.07l5.1 5.1M340.95 177.17l5.1 -5.1M342.95 172.07l5.1 5.1M342.95 177.17l5.1 -5.1M343.95 172.07l5.1 5.1M343.95 177.17l5.1 -5.1M345.95 172.07l5.1 5.1M345.95 177.17l5.1 -5.1M347.95 172.07l5.1 5.1M347.95 177.17l5.1 -5.1M348.95 172.07l5.1 5.1M348.95 177.17l5.1 -5.1M350.95 172.07l5.1 5.1M350.95 177.17l5.1 -5.1M352.95 172.07l5.1 5.1M352.95 177.17l5.1 -5.1M353.95 172.07l5.1 5.1M353.95 177.17l5.1 -5.1M355.95 172.07l5.1 5.1M355.95 177.17l5.1 -5.1M357.95 172.07l5.1 5.1M357.95 177.17l5.1 -5.1M358.95 172.07l5.1 5.1M358.95 177.17l5.1 -5.1M360.95 172.07l5.1 5.1M360.95 177.17l5.1 -5.1M362.95 172.07l5.1 5.1M362.95 177.17l5.1 -5.1M363.95 172.07l5.1 5.1M363.95 177.17l5.1 -5.1M365.95 172.07l5.1 5.1M365.95 177.17l5.1 -5.1M367.95 172.07l5.1 5.1M367.95 177.17l5.1 -5.1M368.95 172.07l5.1 5.1M368.95 177.17l5.1 -5.1M370.95 172.07l5.1 5.1M370.95 177.17l5.1 -5.1M372.95 172.07l5.1 5.1M372.95 177.17l5.1 -5.1M373.95 172.07l5.1 5.1M373.95 177.17l5.1 -5.1M375.95 172.07l5.1 5.1M375.95 177.17l5.1 -5.1M377.95 172.07l5.1 5.1M377.95 177.17l5.1 -5.1M379.95 172.07l5.1 5.1M379.95 177.17l5.1 -5.1M381.95 172.07l5.1 5.1M381.95 177.17l5.1 -5.1M383.95 172.07l5.1 5.1M383.95 177.17l5.1 -5.1M385.95 172.07l5.1 5.1M385.95 177.17l5.1 -5.1M387.95 172.07l5.1 5.1M387.95 177.17l5.1 -5.1M389.95 172.07l5.1 5.1M389.95 177.17l5.1 -5.1M391.95 172.07l5.1 5.1M391.95 177.17l5.1 -5.1M393.95 172.07l5.1 5.1M393.95 177.17l5.1 -5.1M395.95 172.07l5.1 5.1M395.95 177.17l5.1 -5.1M397.95 172.07l5.1 5.1M397.95 177.17l5.1 -5.1M399.95 172.07l5.1 5.1M399.95 177.17l5.1 -5.1M401.95 172.07l5.1 5.1M401.95 177.17l5.1 -5.1M403.95 172.07l5.1 5.1M403.95 177.17l5.1 -5.1M405.95 172.07l5.1 5.1M405.95 177.17l5.1 -5.1M406.95 172.07l5.1 5.1M406.95 177.17l5.1 -5.1M406.95 172.07l5.1 5.1M406.95 177.17l5.1 -5.1M407.95 172.07l5.1 5.1M407.95 177.17l5.1 -5.1M408.95 172.07l5.1 5.1M408.95 177.17l5.1 -5.1M409.95 172.07l5.1 5.1M409.95 177.17l5.1 -5.1M410.95 172.07l5.1 5.1M410.95 177.17l5.1 -5.1M411.95 172.07l5.1 5.1M411.95 177.17l5.1 -5.1M413.95 172.07l5.1 5.1M413.95 177.17l5.1 -5.1M415.95 172.07l5.1 5.1M415.95 177.17l5.1 -5.1M417.95 172.07l5.1 5.1M417.95 177.17l5.1 -5.1M419.95 172.07l5.1 5.1M419.95 177.17l5.1 -5.1M421.95 172.07l5.1 5.1M421.95 177.17l5.1 -5.1M423.95 172.07l5.1 5.1M423.95 177.17l5.1 -5.1M426.95 172.07l5.1 5.1M426.95 177.17l5.1 -5.1M429.95 172.07l5.1 5.1M429.95 177.17l5.1 -5.1M432.95 172.07l5.1 5.1M432.95 177.17l5.1 -5.1M435.95 172.07l5.1 5.1M435.95 177.17l5.1 -5.1M437.95 172.07l5.1 5.1M437.95 177.17l5.1 -5.1M439.95 172.07l5.1 5.1M439.95 177.17l5.1 -5.1M443.95 172.07l5.1 5.1M443.95 177.17l5.1 -5.1M445.95 172.07l5.1 5.1M445.95 177.17l5.1 -5.1M448.95 172.07l5.1 5.1M448.95 177.17l5.1 -5.1M452.95 172.07l5.1 5.1M452.95 177.17l5.1 -5.1M455.95 172.07l5.1 5.1M455.95 177.17l5.1 -5.1M459.95 172.07l5.1 5.1M459.95 177.17l5.1 -5.1M461.95 172.07l5.1 5.1M461.95 177.17l5.1 -5.1M465.95 172.07l5.1 5.1M465.95 177.17l5.1 -5.1M467.95 172.07l5.1 5.1M467.95 177.17l5.1 -5.1M469.95 172.07l5.1 5.1M469.95 177.17l5.1 -5.1M470.95 172.07l5.1 5.1M470.95 177.17l5.1 -5.1M471.95 172.07l5.1 5.1M471.95 177.17l5.1 -5.1M472.95 172.07l5.1 5.1M472.95 177.17l5.1 -5.1M473.95 172.07l5.1 5.1M473.95 177.17l5.1 -5.1M474.95 172.07l5.1 5.1M474.95 177.17l5.1 -5.1M477.95 172.07l5.1 5.1M477.95 177.17l5.1 -5.1M480.95 172.07l5.1 5.1M480.95 177.17l5.1 -5.1M483.95 172.07l5.1 5.1M483.95 177.17l5.1 -5.1M486.95 172.07l5.1 5.1M486.95 177.17l5.1 -5.1M488.95 172.07l5.1 5.1M488.95 177.17l5.1 -5.1M491.95 172.07l5.1 5.1M491.95 177.17l5.1 -5.1M492.95 172.07l5.1 5.1M492.95 177.17l5.1 -5.1M493.95 172.07l5.1 5.1M493.95 177.17l5.1 -5.1M494.95 172.07l5.1 5.1M494.95 177.17l5.1 -5.1M496.95 172.07l5.1 5.1M496.95 177.17l5.1 -5.1M497.95 172.07l5.1 5.1M497.95 177.17l5.1 -5.1M498.95 172.07l5.1 5.1M498.95 177.17l5.1 -5.1M499.95 172.07l5.1 5.1M499.95 177.17l5.1 -5.1M501.95 172.07l5.1 5.1M501.95 177.17l5.1 -5.1M502.95 172.07l5.1 5.1M502.95 177.17l5.1 -5.1M503.95 172.07l5.1 5.1M503.95 177.17l5.1 -5.1M505.95 172.07l5.1 5.1M505.95 177.17l5.1 -5.1M507.95 172.07l5.1 5.1M507.95 177.17l5.1 -5.1M509.95 172.07l5.1 5.1M509.95 177.17l5.1 -5.1M512.95 172.07l5.1 5.1M512.95 177.17l5.1 -5.1M514.95 172.07l5.1 5.1M514.95 177.17l5.1 -5.1M517.95 172.07l5.1 5.1M517.95 177.17l5.1 -5.1M520.95 172.07l5.1 5.1M520.95 177.17l5.1 -5.1M522.95 172.07l5.1 5.1M522.95 177.17l5.1 -5.1M525.95 172.07l5.1 5.1M525.95 177.17l5.1 -5.1M528.95 172.07l5.1 5.1M528.95 177.17l5.1 -5.1M530.95 172.07l5.1 5.1M530.95 177.17l5.1 -5.1M533.95 172.07l5.1 5.1M533.95 177.17l5.1 -5.1M536.95 172.07l5.1 5.1M536.95 177.17l5.1 -5.1"/>
<path fill="none" stroke="#ff8000" stroke-width="1.4" d="M93.7 143.2h5.6M96.5 140.4v5.6M113.6 145.9h5.6M116.4 143.1v5.6M126.6 174.8h5.6M129.4 172v5.6M136.4 30.9h5.6M139.2 28.1v5.6M140.6 302.1h5.6M143.4 299.3v5.6M144.2 78.6h5.6M147 75.8v5.6M147 124.8h5.6M149.8 122v5.6M150.5 173.6h5.6M153.3 170.8v5.6M153.6 219.9h5.6M156.4 217.1v5.6M156.3 171.1h5.6M159.1 168.3v5.6M159.2 140.4h5.6M162 137.6v5.6M163 161.6h5.6M165.8 158.8v5.6M169.2 158.9h5.6M172 156.1v5.6M174.7 164.8h5.6M177.5 162v5.6M174.8 174.4h5.6M177.6 171.6v5.6M179 166.3h5.6M181.8 163.5v5.6M183 164.3h5.6M185.8 161.5v5.6M185.5 170.5h5.6M188.3 167.7v5.6M188 172.2h5.6M190.8 169.4v5.6M191.4 170h5.6M194.2 167.2v5.6M194.4 163.5h5.6M197.2 160.7v5.6M197.6 171.5h5.6M200.4 168.7v5.6M196.7 174.2h5.6M199.5 171.4v5.6M197.7 174.2h5.6M200.5 171.4v5.6M198.7 174.2h5.6M201.5 171.4v5.6M199.7 174.2h5.6M202.5 171.4v5.6M200.7 174.2h5.6M203.5 171.4v5.6M201.7 174.2h5.6M204.5 171.4v5.6M202.7 174.2h5.6M205.5 171.4v5.6M203.7 174.2h5.6M206.5 171.4v5.6M204.7 174.2h5.6M207.5 171.4v5.6M205.7 174.2h5.6M208.5 171.4v5.6M206.7 174.2h5.6M209.5 171.4v5.6M207.7 174.2h5.6M210.5 171.4v5.6M208.7 174.2h5.6M211.5 171.4v5.6M185.5 167.5h5.6M188.3 164.7v5.6M188.7 169h5.6M191.5 166.2v5.6M190.7 171.5h5.6M193.5 168.7v5.6M193.2 170.2h5.6M196 167.4v5.6M195.7 172h5.6M198.5 169.2v5.6M209.2 174.68h5.6M212 171.88v5.6M210.2 174.68h5.6M213 171.88v5.6M211.2 174.68h5.6M214 171.88v5.6M212.2 174.68h5.6M215 171.88v5.6M213.2 174.68h5.6M216 171.88v5.6M214.2 174.68h5.6M217 171.88v5.6M215.2 174.68h5.6M218 171.88v5.6M216.2 174.68h5.6M219 171.88v5.6M217.2 174.68h5.6M220 171.88v5.6M218.2 174.68h5.6M221 171.88v5.6M219.2 174.68h5.6M222 171.88v5.6M220.2 174.68h5.6M223 171.88v5.6M221.2 174.68h5.6M224 171.88v5.6M222.2 174.68h5.6M225 171.88v5.6M223.2 174.68h5.6M226 171.88v5.6M250.7 173.7h5.6M253.5 170.9v5.6"/>
<path fill="none" stroke="#ff8000" stroke-width="2" d="M224.55 174.68h5.9M225.55 174.68h5.9M227.55 174.68h5.9M229.55 174.68h5.9M231.55 174.68h5.9M233.55 174.68h5.9M234.55 174.68h5.9M236.55 174.68h5.9M238.55 174.68h5.9M240.55 174.68h5.9M242.55 174.68h5.9M243.55 174.68h5.9M245.55 174.68h5.9M247.55 174.68h5.9M249.55 174.68h5.9M251.55 174.68h5.9M252.55 174.68h5.9M254.55 174.68h5.9M256.55 174.68h5.9M257.55 174.68h5.9M258.55 174.68h5.9M260.55 174.68h5.9M262.55 174.68h5.9M263.55 174.68h5.9M265.55 174.68h5.9M267.55 174.68h5.9M268.55 174.68h5.9M270.55 174.68h5.9M272.55 174.68h5.9M273.55 174.68h5.9M275.55 174.68h5.9M277.55 174.68h5.9M278.55 174.68h5.9M280.55 174.68h5.9M282.55 174.68h5.9M283.55 174.68h5.9M285.55 174.68h5.9M287.55 174.68h5.9M288.55 174.68h5.9M290.55 174.68h5.9M292.55 174.68h5.9M293.55 174.68h5.9M295.55 174.68h5.9M297.55 174.68h5.9M298.55 174.68h5.9M300.55 174.68h5.9M302.55 174.68h5.9M303.55 174.68h5.9M305.55 174.68h5.9M307.55 174.68h5.9M308.55 174.68h5.9M310.55 174.68h5.9M312.55 174.68h5.9M313.55 174.68h5.9M315.55 174.68h5.9M317.55 174.68h5.9M318.55 174.68h5.9M320.55 174.68h5.9M322.55 174.68h5.9M323.55 174.68h5.9M325.55 174.68h5.9M327.55 174.68h5.9M328.55 174.68h5.9M330.55 174.68h5.9M332.55 174.68h5.9M333.55 174.68h5.9M335.55 174.68h5.9M337.55 174.68h5.9M338.55 174.68h5.9M340.55 174.68h5.9M342.55 174.68h5.9M343.55 174.68h5.9M345.55 174.68h5.9M347.55 174.68h5.9M348.55 174.68h5.9M350.55 174.68h5.9M352.55 174.68h5.9M353.55 174.68h5.9M355.55 174.68h5.9M357.55 174.68h5.9M358.55 174.68h5.9M360.55 174.68h5.9M362.55 174.68h5.9M363.55 174.68h5.9M365.55 174.68h5.9M367.55 174.68h5.9M368.55 174.68h5.9M370.55 174.68h5.9M372.55 174.68h5.9M373.55 174.68h5.9M375.55 174.68h5.9M377.55 174.68h5.9M379.55 174.68h5.9M381.55 174.68h5.9M383.55 174.68h5.9M385.55 174.68h5.9M387.55 174.68h5.9M389.55 174.68h5.9M391.55 174.68h5.9M393.55 174.68h5.9M395.55 174.68h5.9M397.55 174.68h5.9M399.55 174.68h5.9M401.55 174.68h5.9M403.55 174.68h5.9M405.55 174.68h5.9M406.55 174.68h5.9M406.55 174.68h5.9M407.55 174.68h5.9M408.55 174.68h5.9M409.55 174.68h5.9M410.55 174.68h5.9M411.55 174.68h5.9M413.55 174.68h5.9M415.55 174.68h5.9M417.55 174.68h5.9M419.55 174.68h5.9M421.55 174.68h5.9M423.55 174.68h5.9M426.55 174.68h5.9M429.55 174.68h5.9M432.55 174.68h5.9M435.55 174.68h5.9M437.55 174.68h5.9M439.55 174.68h5.9M443.55 174.68h5.9M445.55 174.68h5.9M448.55 174.68h5.9M452.55 174.68h5.9M455.55 174.68h5.9M459.55 174.68h5.9M461.55 174.68h5.9M465.55 174.68h5.9M467.55 174.68h5.9M469.55 174.68h5.9M470.55 174.68h5.9M471.55 174.68h5.9M472.55 174.68h5.9M473.55 174.68h5.9M474.55 174.68h5.9M477.55 174.68h5.9M480.55 174.68h5.9M483.55 174.68h5.9M486.55 174.68h5.9M488.55 174.68h5.9M491.55 174.68h5.9M492.55 174.68h5.9M493.55 174.68h5.9M494.55 174.68h5.9M496.55 174.68h5.9M497.55 174.68h5.9M498.55 174.68h5.9M499.55 174.68h5.9M501.55 174.68h5.9M502.55 174.68h5.9M503.55 174.68h5.9M505.55 174.68h5.9M507.55 174.68h5.9M509.55 174.68h5.9M512.55 174.68h5.9M514.55 174.68h5.9M517.55 174.68h5.9M520.55 174.68h5.9M522.55 174.68h5.9M525.55 174.68h5.9M528.55 174.68h5.9M530.55 174.68h5.9M533.55 174.68h5.9M536.55 174.68h5.9"/>
<path fill="none" stroke="#ff8000" stroke-width="1" d="M227.5 171.73v5.9M228.5 171.73v5.9M230.5 171.73v5.9M232.5 171.73v5.9M234.5 171.73v5.9M236.5 171.73v5.9M237.5 171.73v5.9M239.5 171.73v5.9M241.5 171.73v5.9M243.5 171.73v5.9M245.5 171.73v5.9M246.5 171.73v5.9M248.5 171.73v5.9M250.5 171.73v5.9M252.5 171.73v5.9M254.5 171.73v5.9M255.5 171.73v5.9M257.5 171.73v5.9M259.5 171.73v5.9M260.5 171.73v5.9M261.5 171.73v5.9M263.5 171.73v5.9M265.5 171.73v5.9M266.5 171.73v5.9M268.5 171.73v5.9M270.5 171.73v5.9M271.5 171.73v5.9M273.5 171.73v5.9M275.5 171.73v5.9M276.5 171.73v5.9M278.5 171.73v5.9M280.5 171.73v5.9M281.5 171.73v5.9M283.5 171.73v5.9M285.5 171.73v5.9M286.5 171.73v5.9M288.5 171.73v5.9M290.5 171.73v5.9M291.5 171.73v5.9M293.5 171.73v5.9M295.5 171.73v5.9M296.5 171.73v5.9M298.5 171.73v5.9M300.5 171.73v5.9M301.5 171.73v5.9M303.5 171.73v5.9M305.5 171.73v5.9M306.5 171.73v5.9M308.5 171.73v5.9M310.5 171.73v5.9M311.5 171.73v5.9M313.5 171.73v5.9M315.5 171.73v5.9M316.5 171.73v5.9M318.5 171.73v5.9M320.5 171.73v5.9M321.5 171.73v5.9M323.5 171.73v5.9M325.5 171.73v5.9M326.5 171.73v5.9M328.5 171.73v5.9M330.5 171.73v5.9M331.5 171.73v5.9M333.5 171.73v5.9M335.5 171.73v5.9M336.5 171.73v5.9M338.5 171.73v5.9M340.5 171.73v5.9M341.5 171.73v5.9M343.5 171.73v5.9M345.5 171.73v5.9M346.5 171.73v5.9M348.5 171.73v5.9M350.5 171.73v5.9M351.5 171.73v5.9M353.5 171.73v5.9M355.5 171.73v5.9M356.5 171.73v5.9M358.5 171.73v5.9M360.5 171.73v5.9M361.5 171.73v5.9M363.5 171.73v5.9M365.5 171.73v5.9M366.5 171.73v5.9M368.5 171.73v5.9M370.5 171.73v5.9M371.5 171.73v5.9M373.5 171.73v5.9M375.5 171.73v5.9M376.5 171.73v5.9M378.5 171.73v5.9M380.5 171.73v5.9M382.5 171.73v5.9M384.5 171.73v5.9M386.5 171.73v5.9M388.5 171.73v5.9M390.5 171.73v5.9M392.5 171.73v5.9M394.5 171.73v5.9M396.5 171.73v5.9M398.5 171.73v5.9M400.5 171.73v5.9M402.5 171.73v5.9M404.5 171.73v5.9M406.5 171.73v5.9M408.5 171.73v5.9M409.5 171.73v5.9M409.5 171.73v5.9M410.5 171.73v5.9M411.5 171.73v5.9M412.5 171.73v5.9M413.5 171.73v5.9M414.5 171.73v5.9M416.5 171.73v5.9M418.5 171.73v5.9M420.5 171.73v5.9M422.5 171.73v5.9M424.5 171.73v5.9M426.5 171.73v5.9M429.5 171.73v5.9M432.5 171.73v5.9M435.5 171.73v5.9M438.5 171.73v5.9M440.5 171.73v5.9M442.5 171.73v5.9M446.5 171.73v5.9M448.5 171.73v5.9M451.5 171.73v5.9M455.5 171.73v5.9M458.5 171.73v5.9M462.5 171.73v5.9M464.5 171.73v5.9M468.5 171.73v5.9M470.5 171.73v5.9M472.5 171.73v5.9M473.5 171.73v5.9M474.5 171.73v5.9M475.5 171.73v5.9M476.5 171.73v5.9M477.5 171.73v5.9M480.5 171.73v5.9M483.5 171.73v5.9M486.5 171.73v5.9M489.5 171.73v5.9M491.5 171.73v5.9M494.5 171.73v5.9M495.5 171.73v5.9M496.5 171.73v5.9M497.5 171.73v5.9M499.5 171.73v5.9M500.5 171.73v5.9M501.5 171.73v5.9M502.5 171.73v5.9M504.5 171.73v5.9M505.5 171.73v5.9M506.5 171.73v5.9M508.5 171.73v5.9M510.5 171.73v5.9M512.5 171.73v5.9M515.5 171.73v5.9M517.5 171.73v5.9M520.5 171.73v5.9M523.5 171.73v5.9M525.5 171.73v5.9M528.5 171.73v5.9M531.5 171.73v5.9M533.5 171.73v5.9M536.5 171.73v5.9M539.5 171.73v5.9"/>
</g>
<rect x="80.85" y="4.6" width="461.95" height="374.4" fill="none" stroke="#000" stroke-width="1.8"/>
<path d="M80.85 379.0v7.7M80.85 4.6v7.7M94.28 379.0v3.6M94.28 4.6v3.6M102.13 379.0v3.6M102.13 4.6v3.6M107.7 379.0v3.6M107.7 4.6v3.6M112.03 379.0v3.6M112.03 4.6v3.6M115.56 379.0v3.6M115.56 4.6v3.6M118.55 379.0v3.6M118.55 4.6v3.6M121.13 379.0v3.6M121.13 4.6v3.6M123.41 379.0v3.6M123.41 4.6v3.6M125.45 379.0v7.7M125.45 4.6v7.7M138.88 379.0v3.6M138.88 4.6v3.6M146.74 379.0v3.6M146.74 4.6v3.6M152.31 379.0v3.6M152.31 4.6v3.6M156.63 379.0v3.6M156.63 4.6v3.6M160.16 379.0v3.6M160.16 4.6v3.6M163.15 379.0v3.6M163.15 4.6v3.6M165.74 379.0v3.6M165.74 4.6v3.6M168.02 379.0v3.6M168.02 4.6v3.6M170.06 379.0v7.7M170.06 4.6v7.7M183.49 379.0v3.6M183.49 4.6v3.6M191.34 379.0v3.6M191.34 4.6v3.6M196.91 379.0v3.6M196.91 4.6v3.6M201.24 379.0v3.6M201.24 4.6v3.6M204.77 379.0v3.6M204.77 4.6v3.6M207.76 379.0v3.6M207.76 4.6v3.6M210.34 379.0v3.6M210.34 4.6v3.6M212.62 379.0v3.6M212.62 4.6v3.6M214.66 379.0v7.7M214.66 4.6v7.7M228.09 379.0v3.6M228.09 4.6v3.6M235.95 379.0v3.6M235.95 4.6v3.6M241.52 379.0v3.6M241.52 4.6v3.6M245.84 379.0v3.6M245.84 4.6v3.6M249.37 379.0v3.6M249.37 4.6v3.6M252.36 379.0v3.6M252.36 4.6v3.6M254.95 379.0v3.6M254.95 4.6v3.6M257.23 379.0v3.6M257.23 4.6v3.6M259.27 379.0v7.7M259.27 4.6v7.7M272.7 379.0v3.6M272.7 4.6v3.6M280.55 379.0v3.6M280.55 4.6v3.6M286.12 379.0v3.6M286.12 4.6v3.6M290.45 379.0v3.6M290.45 4.6v3.6M293.98 379.0v3.6M293.98 4.6v3.6M296.97 379.0v3.6M296.97 4.6v3.6M299.55 379.0v3.6M299.55 4.6v3.6M301.83 379.0v3.6M301.83 4.6v3.6M303.88 379.0v7.7M303.88 4.6v7.7M317.3 379.0v3.6M317.3 4.6v3.6M325.16 379.0v3.6M325.16 4.6v3.6M330.73 379.0v3.6M330.73 4.6v3.6M335.05 379.0v3.6M335.05 4.6v3.6M338.58 379.0v3.6M338.58 4.6v3.6M341.57 379.0v3.6M341.57 4.6v3.6M344.16 379.0v3.6M344.16 4.6v3.6M346.44 379.0v3.6M346.44 4.6v3.6M348.48 379.0v7.7M348.48 4.6v7.7M361.91 379.0v3.6M361.91 4.6v3.6M369.76 379.0v3.6M369.76 4.6v3.6M375.33 379.0v3.6M375.33 4.6v3.6M379.66 379.0v3.6M379.66 4.6v3.6M383.19 379.0v3.6M383.19 4.6v3.6M386.18 379.0v3.6M386.18 4.6v3.6M388.76 379.0v3.6M388.76 4.6v3.6M391.04 379.0v3.6M391.04 4.6v3.6M393.08 379.0v7.7M393.08 4.6v7.7M406.51 379.0v3.6M406.51 4.6v3.6M414.37 379.0v3.6M414.37 4.6v3.6M419.94 379.0v3.6M419.94 4.6v3.6M424.26 379.0v3.6M424.26 4.6v3.6M427.79 379.0v3.6M427.79 4.6v3.6M430.78 379.0v3.6M430.78 4.6v3.6M433.37 379.0v3.6M433.37 4.6v3.6M435.65 379.0v3.6M435.65 4.6v3.6M437.69 379.0v7.7M437.69 4.6v7.7M451.12 379.0v3.6M451.12 4.6v3.6M458.97 379.0v3.6M458.97 4.6v3.6M464.54 379.0v3.6M464.54 4.6v3.6M468.87 379.0v3.6M468.87 4.6v3.6M472.4 379.0v3.6M472.4 4.6v3.6M475.39 379.0v3.6M475.39 4.6v3.6M477.97 379.0v3.6M477.97 4.6v3.6M480.25 379.0v3.6M480.25 4.6v3.6M482.29 379.0v7.7M482.29 4.6v7.7M495.72 379.0v3.6M495.72 4.6v3.6M503.58 379.0v3.6M503.58 4.6v3.6M509.15 379.0v3.6M509.15 4.6v3.6M513.47 379.0v3.6M513.47 4.6v3.6M517 379.0v3.6M517 4.6v3.6M519.99 379.0v3.6M519.99 4.6v3.6M522.58 379.0v3.6M522.58 4.6v3.6M524.86 379.0v3.6M524.86 4.6v3.6M526.9 379.0v7.7M526.9 4.6v7.7M540.33 379.0v3.6M540.33 4.6v3.6M80.85 378.99h-7.7M542.8 378.99h-7.7M80.85 353.47h-3.6M542.8 353.47h-3.6M80.85 327.95h-7.7M542.8 327.95h-7.7M80.85 302.43h-3.6M542.8 302.43h-3.6M80.85 276.91h-7.7M542.8 276.91h-7.7M80.85 251.39h-3.6M542.8 251.39h-3.6M80.85 225.87h-7.7M542.8 225.87h-7.7M80.85 200.35h-3.6M542.8 200.35h-3.6M80.85 174.83h-7.7M542.8 174.83h-7.7M80.85 149.31h-3.6M542.8 149.31h-3.6M80.85 123.79h-7.7M542.8 123.79h-7.7M80.85 98.27h-3.6M542.8 98.27h-3.6M80.85 72.75h-7.7M542.8 72.75h-7.7M80.85 47.23h-3.6M542.8 47.23h-3.6M80.85 21.71h-7.7M542.8 21.71h-7.7" stroke="#000" stroke-width="1.7" fill="none"/>
<text x="68.0" y="383.59" font-size="15.4" stroke="#000" stroke-width="0.2" text-anchor="end">-1200</text>
<text x="68.0" y="332.55" font-size="15.4" stroke="#000" stroke-width="0.2" text-anchor="end">-900</text>
<text x="68.0" y="281.51" font-size="15.4" stroke="#000" stroke-width="0.2" text-anchor="end">-600</text>
<text x="68.0" y="230.47" font-size="15.4" stroke="#000" stroke-width="0.2" text-anchor="end">-300</text>
<text x="68.0" y="179.43" font-size="15.4" stroke="#000" stroke-width="0.2" text-anchor="end">0</text>
<text x="68.0" y="128.39" font-size="15.4" stroke="#000" stroke-width="0.2" text-anchor="end">300</text>
<text x="68.0" y="77.35" font-size="15.4" stroke="#000" stroke-width="0.2" text-anchor="end">600</text>
<text x="68.0" y="26.31" font-size="15.4" stroke="#000" stroke-width="0.2" text-anchor="end">900</text>
<text x="80.65" y="406.0" font-size="15.6" stroke="#000" stroke-width="0.2" text-anchor="middle">10<tspan stroke-width="0.15" font-size="10.5" dx="0.4" dy="-7">-3</tspan></text>
<text x="125.25" y="406.0" font-size="15.6" stroke="#000" stroke-width="0.2" text-anchor="middle">10<tspan stroke-width="0.15" font-size="10.5" dx="0.4" dy="-7">-2</tspan></text>
<text x="169.86" y="406.0" font-size="15.6" stroke="#000" stroke-width="0.2" text-anchor="middle">10<tspan stroke-width="0.15" font-size="10.5" dx="0.4" dy="-7">-1</tspan></text>
<text x="215.01" y="406.0" font-size="15.6" stroke="#000" stroke-width="0.2" text-anchor="middle">10<tspan stroke-width="0.15" font-size="10.5" dx="0.4" dy="-7">0</tspan></text>
<text x="259.62" y="406.0" font-size="15.6" stroke="#000" stroke-width="0.2" text-anchor="middle">10<tspan stroke-width="0.15" font-size="10.5" dx="0.4" dy="-7">1</tspan></text>
<text x="304.23" y="406.0" font-size="15.6" stroke="#000" stroke-width="0.2" text-anchor="middle">10<tspan stroke-width="0.15" font-size="10.5" dx="0.4" dy="-7">2</tspan></text>
<text x="348.83" y="406.0" font-size="15.6" stroke="#000" stroke-width="0.2" text-anchor="middle">10<tspan stroke-width="0.15" font-size="10.5" dx="0.4" dy="-7">3</tspan></text>
<text x="393.43" y="406.0" font-size="15.6" stroke="#000" stroke-width="0.2" text-anchor="middle">10<tspan stroke-width="0.15" font-size="10.5" dx="0.4" dy="-7">4</tspan></text>
<text x="438.04" y="406.0" font-size="15.6" stroke="#000" stroke-width="0.2" text-anchor="middle">10<tspan stroke-width="0.15" font-size="10.5" dx="0.4" dy="-7">5</tspan></text>
<text x="482.64" y="406.0" font-size="15.6" stroke="#000" stroke-width="0.2" text-anchor="middle">10<tspan stroke-width="0.15" font-size="10.5" dx="0.4" dy="-7">6</tspan></text>
<text x="527.25" y="406.0" font-size="15.6" stroke="#000" stroke-width="0.2" text-anchor="middle">10<tspan stroke-width="0.15" font-size="10.5" dx="0.4" dy="-7">7</tspan></text>
<text x="260.6" y="434.7" font-size="19.4" letter-spacing="-0.2" stroke="#000" stroke-width="0.2">Energy (eV)</text>
<text class="s" transform="translate(12.1,174.4) scale(1.08,1)" font-size="14.9" stroke="#000" stroke-width="0.2">Δ</text>
<text class="s" transform="translate(22.9,175.1) scale(1.38,1)" font-size="14.5" font-style="italic" stroke="#000" stroke-width="0.2">ρ</text>
<text class="s" x="4.5 11.3 18.6 24.2 34.0" y="195" font-size="9.6" font-style="italic" stroke="#000" stroke-width="0.25">(pcm)</text>
<rect x="320" y="28.7" width="210.6" height="23.6" fill="#000"/>
<rect x="314.7" y="23.6" width="211" height="24.2" fill="#fff" stroke="#000" stroke-width="1"/>
<text x="320.3" y="43" font-size="15.83" stroke="#000" stroke-width="0.25">PNL-5 : Pu-239 nufission XS</text>
<rect x="199.4" y="310.6" width="319.3" height="48.1" fill="#fff" stroke="#000" stroke-width="1"/>
<text x="200.9" y="323.8" font-size="12.29" stroke="#000" stroke-width="0.15">Reactivity Difference based on ENDF/B-VII.1</text>
<text x="231.8" y="338.8" font-size="12.2" stroke="#000" stroke-width="0.15">ENDF/B-VIII.0</text>
<text x="231.8" y="354.4" font-size="12.2" stroke="#000" stroke-width="0.15">JEFF-3.3</text>
<text x="344.9" y="338.8" font-size="12.25" stroke="#000" stroke-width="0.15">JENDL-4.0</text>
<text x="345.2" y="354.2" font-size="12.15" stroke="#000" stroke-width="0.15">TENDL-2021</text>
<text x="453.4" y="338.8" font-size="12.25" stroke="#000" stroke-width="0.15">JENDL-5.0</text>
<text x="454.9" y="354.2" font-size="12.2" stroke="#000" stroke-width="0.15">CENDL-3.2</text>
<path fill="#000000" d="M212.1 332.2h4.6v4.6h-4.6z"/>
<path fill="#0000ff" d="M210.9 346.55h6.2l-3.1 5.5z"/>
<path fill="#00ff00" d="M324 336.55h6.2l-3.1 -5.5z"/>
<path fill="none" stroke="#8000ff" stroke-width="1.65" d="M324.85 347.45l5.1 5.1M324.85 352.55l5.1 -5.1"/>
<path fill="none" stroke="#0a8a8a" stroke-width="1" d="M433.1 336.4h5.6l-2.8 -5z"/>
<path fill="none" stroke="#ff8000" stroke-width="1.4" d="M434.4 349.9h5.6M437.2 347.1v5.6"/>
</svg></body></html>
